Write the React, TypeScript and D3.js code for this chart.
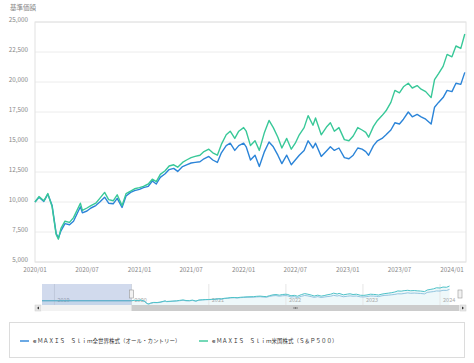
import { useMemo } from "react";
import * as d3 from "d3";

// semi-monthly readings (基準価額, yen)
const dates = [
  "2020-01-01", "2020-01-15", "2020-02-01", "2020-02-15", "2020-03-01", "2020-03-15", "2020-03-23",
  "2020-04-01", "2020-04-15", "2020-05-01", "2020-05-15", "2020-06-08", "2020-06-15", "2020-07-01",
  "2020-07-15", "2020-08-01", "2020-08-15", "2020-09-01", "2020-09-15", "2020-10-01", "2020-10-15",
  "2020-11-01", "2020-11-15", "2020-12-01", "2020-12-15", "2021-01-01", "2021-01-15", "2021-02-01",
  "2021-02-15", "2021-03-01", "2021-03-15", "2021-04-01", "2021-04-15", "2021-05-01", "2021-05-15",
  "2021-06-01", "2021-06-15", "2021-07-01", "2021-07-15", "2021-08-01", "2021-08-15", "2021-09-01",
  "2021-09-15", "2021-10-01", "2021-10-15", "2021-11-01", "2021-11-15", "2021-12-01", "2021-12-15",
  "2022-01-01", "2022-01-10", "2022-01-25", "2022-02-10", "2022-02-25", "2022-03-15", "2022-03-31",
  "2022-04-15", "2022-05-01", "2022-05-15", "2022-06-01", "2022-06-17", "2022-07-01", "2022-07-15",
  "2022-08-01", "2022-08-15", "2022-09-01", "2022-09-10", "2022-09-30", "2022-10-20", "2022-11-01",
  "2022-11-15", "2022-12-01", "2022-12-20", "2023-01-05", "2023-01-20", "2023-02-05", "2023-02-20",
  "2023-03-05", "2023-03-15", "2023-04-01", "2023-04-15", "2023-05-01", "2023-05-15", "2023-06-01",
  "2023-06-15", "2023-07-01", "2023-07-15", "2023-08-01", "2023-08-15", "2023-09-01", "2023-09-15",
  "2023-10-01", "2023-10-20", "2023-11-01", "2023-11-15", "2023-12-01", "2023-12-15", "2024-01-01",
  "2024-01-15", "2024-02-01", "2024-02-15",
];

const allCountry = [
  10000, 10400, 10050, 10650, 9700, 7400, 7000,
  7600, 8200, 8100, 8400, 9600, 9100, 9250,
  9500, 9700, 10000, 10400, 9900, 9850, 10300,
  9550, 10500, 10800, 10950, 11050, 11200, 11300,
  11750, 11500, 12050, 12350, 12700, 12800, 12550,
  12950, 13100, 13250, 13300, 13350, 13600, 13800,
  13500, 13300, 14100, 14700, 14900, 14300, 14700,
  14900, 14600, 13500, 13900, 12950, 14200, 15000,
  14600, 13900, 13200, 13900, 13100, 13500, 13900,
  14300, 15100, 14500, 14900, 13800, 14300, 14600,
  14300, 14500, 13700, 13600, 13900, 14500, 14400,
  14200, 13900, 14700, 15100, 15300, 15600, 16000,
  16600, 16500, 16900, 17500, 17100, 17300, 17100,
  16900, 16500, 17900, 18300, 18700, 19300, 19200,
  19900, 19800, 20800,
];

const sp500 = [
  10000, 10450, 10100, 10700, 9600, 7300, 6900,
  7800, 8400, 8300, 8700, 9900, 9300, 9500,
  9700, 9900, 10300, 10800, 10200, 10100, 10600,
  9700, 10700, 10900, 11100, 11200, 11300, 11500,
  11900, 11700, 12300, 12600, 13000, 13100, 12900,
  13300, 13500, 13700, 13800, 13900, 14200, 14400,
  14100, 13900, 14800, 15600, 15900, 15300, 15900,
  16200, 15900, 14700, 15100, 14300, 15800, 16800,
  16200, 15400, 14500, 15300, 14400, 14900, 15600,
  16200, 17200, 16400, 17000, 15600, 16300, 16600,
  15900, 16200, 15200, 15100, 15500, 16200, 16000,
  15800, 15400, 16300, 16800, 17200, 17600, 18300,
  19300, 19100, 19600, 19900, 19500, 19700, 19400,
  19200, 18700, 20200, 20700, 21300, 22300, 22100,
  23000, 22800, 24000,
];

const seriesNames = [
  "ｅＭＡＸＩＳ　Ｓｌｉｍ全世界株式（オール・カントリー）",
  "ｅＭＡＸＩＳ　Ｓｌｉｍ米国株式（Ｓ＆Ｐ５００）",
];
const colors = ["#2b84d8", "#38c898"];

const yTicks = [5000, 7500, 10000, 12500, 15000, 17500, 20000, 22500, 25000];
const xTickLabels = ["2020/01", "2020/07", "2021/01", "2021/07", "2022/01", "2022/07", "2023/01", "2023/07", "2024/01"];
const navYears = ["2019", "2020", "2021", "2022", "2023", "2024"];

const W = 474;
const H = 363;
const font = "'Noto Sans CJK JP', 'Noto Sans', sans-serif";

export default function App() {
  const parse = d3.timeParse("%Y-%m-%d");
  const parseTick = d3.timeParse("%Y/%m");
  const data = dates.map((d, i) => ({ date: parse(d)!, ac: allCountry[i], sp: sp500[i] }));

  const plot = { left: 35, right: 466, top: 22, bottom: 262 };
  const x = d3.scaleTime().domain([parse("2020-01-01")!, parse("2024-02-15")!]).range([35, 464.8]);
  const y = d3.scaleLinear().domain([5000, 25000]).range([plot.bottom, plot.top]);

  const lineAc = d3.line<any>().x((d) => x(d.date)).y((d) => y(d.ac));
  const lineSp = d3.line<any>().x((d) => x(d.date)).y((d) => y(d.sp));

  // navigator
  const nav = { left: 42, right: 462, top: 284, bottom: 305 };
  const nx = d3.scaleTime().domain([parse("2018-11-03")!, parse("2024-04-14")!]).range([nav.left, nav.right]);
  const ny = d3.scaleLinear().domain([6900, 24000]).range([304, 286]);
  const navStart = { date: nx.domain()[0], ac: allCountry[0], sp: sp500[0] };
  const navData = [navStart, ...data];
  const navLineSp = d3.line<any>().x((d) => nx(d.date)).y((d) => ny(d.sp));
  const navLineAc = d3.line<any>().x((d) => nx(d.date)).y((d) => ny(d.ac));
  const navArea = d3.area<any>().x((d) => nx(d.date)).y0(nav.bottom).y1((d) => ny(d.sp));
  const maskRight = nx(parse("2020-01-01")!);

  const fmt = d3.format(",");

  return (
    <svg width={W} height={H} style={{ position: "absolute", left: 0, top: 0, fontFamily: font }}>
      <rect width={W} height={H} fill="#fff" />
      <text x={10} y={10} fontSize={6.5} fill="#888">基準価額</text>

      {yTicks.map((t) => (
        <g key={t}>
          <line x1={plot.left} x2={plot.right} y1={y(t)} y2={y(t)} stroke="#ececec" />
          <text x={28} y={y(t)} fontSize={6.3} fill="#888" textAnchor="end">{fmt(t)}</text>
        </g>
      ))}
      <rect x={plot.left} y={plot.top} width={plot.right - plot.left} height={plot.bottom - plot.top}
        fill="none" stroke="#e2e2e2" />
      {xTickLabels.map((t) => (
        <text key={t} x={x(parseTick(t)!)} y={272} fontSize={6.3} fill="#888" textAnchor="middle">{t}</text>
      ))}

      <path d={lineAc(data)!} fill="none" stroke={colors[0]} strokeWidth={1.4} strokeLinejoin="round" />
      <path d={lineSp(data)!} fill="none" stroke={colors[1]} strokeWidth={1.4} strokeLinejoin="round" />

      {/* navigator */}
      <path d={navArea(navData)!} fill="rgba(120,200,220,0.13)" />
      {navYears.map((yr) => {
        const px = nx(parseTick(yr + "/01")!);
        return (
          <g key={yr}>
            <line x1={px} x2={px} y1={nav.top} y2={nav.bottom} stroke="#e6e6e6" />
            <text x={px + 3} y={302} fontSize={5.5} fill="#aaa">{yr}</text>
          </g>
        );
      })}
      <path d={navLineAc(navData)!} fill="none" stroke="#7ab8d8" strokeWidth={0.8} />
      <path d={navLineSp(navData)!} fill="none" stroke="#4fc2c8" strokeWidth={1} />
      <rect x={nav.left} y={nav.top} width={maskRight - nav.left} height={nav.bottom - nav.top}
        fill="rgba(102,133,194,0.3)" />
      {[maskRight, 460].map((hx) => (
        <rect key={hx} x={hx - 2} y={290} width={4} height={8} fill="#f2f2f2" stroke="#999" strokeWidth={0.6} />
      ))}

      {/* scrollbar */}
      <rect x={nav.left} y={305} width={nav.right - nav.left} height={6} fill="#f2f2f2" />
      <rect x={maskRight} y={305} width={459 - maskRight} height={6} fill="#cccccc" />
      {[0, 1, 2].map((i) => (
        <line key={i} x1={294 + i * 1.5} x2={294 + i * 1.5} y1={307} y2={309} stroke="#333" strokeWidth={0.5} />
      ))}
      <rect x={35} y={305} width={6} height={6} fill="#e6e6e6" stroke="#ccc" strokeWidth={0.5} />
      <path d="M39,306.5 L37,308 L39,309.5 Z" fill="#333" />
      <rect x={460} y={305} width={6} height={6} fill="#e6e6e6" stroke="#ccc" strokeWidth={0.5} />
      <path d="M462,306.5 L464,308 L462,309.5 Z" fill="#333" />

      {/* legend */}
      <rect x={9.5} y={322.5} width={455} height={35} fill="#fff" stroke="#dcdcdc" />
      {seriesNames.map((name, i) => {
        const lx = i === 0 ? 20 : 199;
        return (
          <g key={name}>
            <line x1={lx} x2={lx + 9} y1={341} y2={341} stroke={colors[i]} strokeWidth={1.4} />
            <text x={lx + 12} y={343} fontSize={5.5} fill="#333">{name}</text>
          </g>
        );
      })}
    </svg>
  );
}
